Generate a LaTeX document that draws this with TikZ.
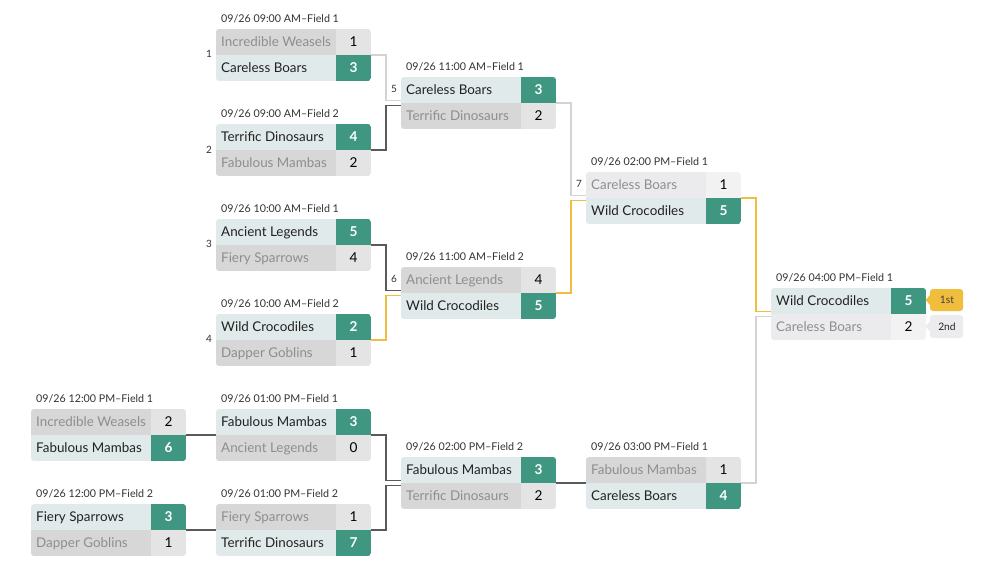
\documentclass[tikz,border=0pt]{standalone}
\usepackage{fontspec}
\setmainfont{Lato}
\usetikzlibrary{calc}
\definecolor{grn}{HTML}{3F9781}
\definecolor{winbg}{HTML}{E1EAEA}
\definecolor{losebg}{HTML}{D7D7D7}
\definecolor{losesc}{HTML}{E4E4E4}
\definecolor{litebg}{HTML}{EBEBED}
\definecolor{litesc}{HTML}{F2F2F3}
\definecolor{gtxt}{HTML}{8E8E8E}
\definecolor{dtxt}{HTML}{222222}
\definecolor{ltxt}{HTML}{333333}
\definecolor{cdark}{HTML}{5A5A5A}
\definecolor{clight}{HTML}{D3D3D3}
\definecolor{cyel}{HTML}{F0BE3C}
\definecolor{badgegray}{HTML}{ECECEE}
\tikzset{
  winN/.style={fill=winbg}, winS/.style={fill=grn},
  loseN/.style={fill=losebg}, loseS/.style={fill=losesc},
  liteN/.style={fill=litebg}, liteS/.style={fill=litesc},
  winNt/.style={text=dtxt}, winSt/.style={text=white,font={\fontsize{13.6}{16}\selectfont\bfseries}},
  loseNt/.style={text=gtxt}, loseSt/.style={text=black},
  liteNt/.style={text=gtxt}, liteSt/.style={text=black},
  nm/.style={inner sep=0pt,text height=9.7pt,text depth=0pt,font={\fontsize{13.4}{16}\selectfont}},
  sc/.style={inner sep=0pt,text height=9.8pt,text depth=0pt,font={\fontsize{13.6}{16}\selectfont}},
  lbl/.style={inner sep=0pt,text height=7.7pt,text depth=0pt,text=ltxt,font={\fontsize{10.7}{12}\selectfont}},
  mnum/.style={inner sep=0pt,text height=7.2pt,text depth=0pt,text=ltxt,font={\fontsize{10}{12}\selectfont}},
  conn/.style={line width=1.8pt},
  cd/.style={conn,draw=cdark},
  cl/.style={conn,draw=clight},
  cy/.style={conn,draw=cyel},
  badgetxt/.style={inner sep=0pt,text height=7.4pt,text depth=0pt,font={\fontsize{10.3}{12}\selectfont}}
}
\newcommand\matchhd[4]{%
  \coordinate (#1) at (#2,#3);
  \coordinate (#1-in) at (#2,#3+26);
  \coordinate (#1-out) at (#2+155,#3+26);
  \node[lbl,anchor=west] (#1-lbl) at (#2+5,#3-10.7) {#4};
}
\newcommand\mrow[7]{%
  \begin{scope}
  \clip[rounded corners=3pt] (#2,#3) rectangle ++(155,52);
  \fill[#5N] (#2,#3+#4) rectangle ++(120,26);
  \fill[#5S] (#2+120,#3+#4) rectangle ++(35,26);
  \end{scope}
  \node[nm,#5Nt,anchor=west] (#1-n#4) at (#2+5,#3+#4+13) {#6};
  \node[sc,#5St] (#1-s#4) at (#2+137.5,#3+#4+13) {#7};
}
\begin{document}
\begin{tikzpicture}[x=1pt,y=-1pt]
\fill[white] (0,0) rectangle (981,569);
\useasboundingbox (0,0) rectangle (981,569);

% column 1 upper
\matchhd{A}{216}{29}{09/26 09:00 AM–Field 1}
\mrow{A}{216}{29}{0}{lose}{Incredible Weasels}{1}
\mrow{A}{216}{29}{26}{win}{Careless Boars}{3}
\node[mnum] (A-num) at (209,54) {1};

\matchhd{B}{216}{124}{09/26 09:00 AM–Field 2}
\mrow{B}{216}{124}{0}{win}{Terrific Dinosaurs}{4}
\mrow{B}{216}{124}{26}{lose}{Fabulous Mambas}{2}
\node[mnum] (B-num) at (209,150) {2};

\matchhd{C}{216}{219}{09/26 10:00 AM–Field 1}
\mrow{C}{216}{219}{0}{win}{Ancient Legends}{5}
\mrow{C}{216}{219}{26}{lose}{Fiery Sparrows}{4}
\node[mnum] (C-num) at (209,244) {3};

\matchhd{D}{216}{314}{09/26 10:00 AM–Field 2}
\mrow{D}{216}{314}{0}{win}{Wild Crocodiles}{2}
\mrow{D}{216}{314}{26}{lose}{Dapper Goblins}{1}
\node[mnum] (D-num) at (209,339) {4};

% column 2
\matchhd{E}{401}{77}{09/26 11:00 AM–Field 1}
\mrow{E}{401}{77}{0}{win}{Careless Boars}{3}
\mrow{E}{401}{77}{26}{lose}{Terrific Dinosaurs}{2}
\node[mnum] (E-num) at (394,89) {5};

\matchhd{F}{401}{267}{09/26 11:00 AM–Field 2}
\mrow{F}{401}{267}{0}{lose}{Ancient Legends}{4}
\mrow{F}{401}{267}{26}{win}{Wild Crocodiles}{5}
\node[mnum] (F-num) at (394,279) {6};

% column 3
\matchhd{G}{586}{172}{09/26 02:00 PM–Field 1}
\mrow{G}{586}{172}{0}{lite}{Careless Boars}{1}
\mrow{G}{586}{172}{26}{win}{Wild Crocodiles}{5}
\node[mnum] (G-num) at (579,184) {7};

% final
\matchhd{H}{771}{288}{09/26 04:00 PM–Field 1}
\mrow{H}{771}{288}{0}{win}{Wild Crocodiles}{5}
\mrow{H}{771}{288}{26}{lite}{Careless Boars}{2}

% lower bracket
\matchhd{I}{31}{409}{09/26 12:00 PM–Field 1}
\mrow{I}{31}{409}{0}{lose}{Incredible Weasels}{2}
\mrow{I}{31}{409}{26}{win}{Fabulous Mambas}{6}

\matchhd{J}{31}{504}{09/26 12:00 PM–Field 2}
\mrow{J}{31}{504}{0}{win}{Fiery Sparrows}{3}
\mrow{J}{31}{504}{26}{lose}{Dapper Goblins}{1}

\matchhd{K}{216}{409}{09/26 01:00 PM–Field 1}
\mrow{K}{216}{409}{0}{win}{Fabulous Mambas}{3}
\mrow{K}{216}{409}{26}{lose}{Ancient Legends}{0}

\matchhd{L}{216}{504}{09/26 01:00 PM–Field 2}
\mrow{L}{216}{504}{0}{lose}{Fiery Sparrows}{1}
\mrow{L}{216}{504}{26}{win}{Terrific Dinosaurs}{7}

\matchhd{M}{401}{457}{09/26 02:00 PM–Field 2}
\mrow{M}{401}{457}{0}{win}{Fabulous Mambas}{3}
\mrow{M}{401}{457}{26}{lose}{Terrific Dinosaurs}{2}

\matchhd{N}{586}{457}{09/26 03:00 PM–Field 1}
\mrow{N}{586}{457}{0}{lose}{Fabulous Mambas}{1}
\mrow{N}{586}{457}{26}{win}{Careless Boars}{4}

% connectors
\draw[cl] (A-out) -- ++(15,0) |- ($(E-in)+(0,-2.5)$);
\draw[cd] (B-out) -- ++(15,0) |- ($(E-in)+(0,2.5)$);
\draw[cd] (C-out) -- ++(15,0) |- ($(F-in)+(0,-2.5)$);
\draw[cy] (D-out) -- ++(15,0) |- ($(F-in)+(0,2.5)$);
\draw[cl] (E-out) -- ++(15,0) |- ($(G-in)+(0,-2.5)$);
\draw[cy] (F-out) -- ++(15,0) |- ($(G-in)+(0,2.5)$);
\draw[cy] (G-out) -- ++(15,0) |- ($(H-in)+(0,-2.5)$);
\draw[cl] (N-out) -- ++(15,0) |- ($(H-in)+(0,2.5)$);
\draw[cd] (I-out) -- (K-in);
\draw[cd] (J-out) -- (L-in);
\draw[cd] (K-out) -- ++(15,0) |- ($(M-in)+(0,-2.5)$);
\draw[cd] (L-out) -- ++(15,0) |- ($(M-in)+(0,2.5)$);
\draw[cd] (M-out) -- (N-in);

% badges
\fill[cyel,rounded corners=3pt] (930,289) rectangle (963,311);
\fill[cyel] (930.5,294.5) -- (925.5,300) -- (930.5,305.5) -- cycle;
\node[badgetxt,text=black!75] (first) at (947,300) {1st};
\fill[badgegray,rounded corners=3pt] (930,315) rectangle (963,338);
\fill[badgegray] (930.5,321) -- (925.5,326.5) -- (930.5,332) -- cycle;
\node[badgetxt,text=black!85] (second) at (947,326.5) {2nd};
\end{tikzpicture}
\end{document}
